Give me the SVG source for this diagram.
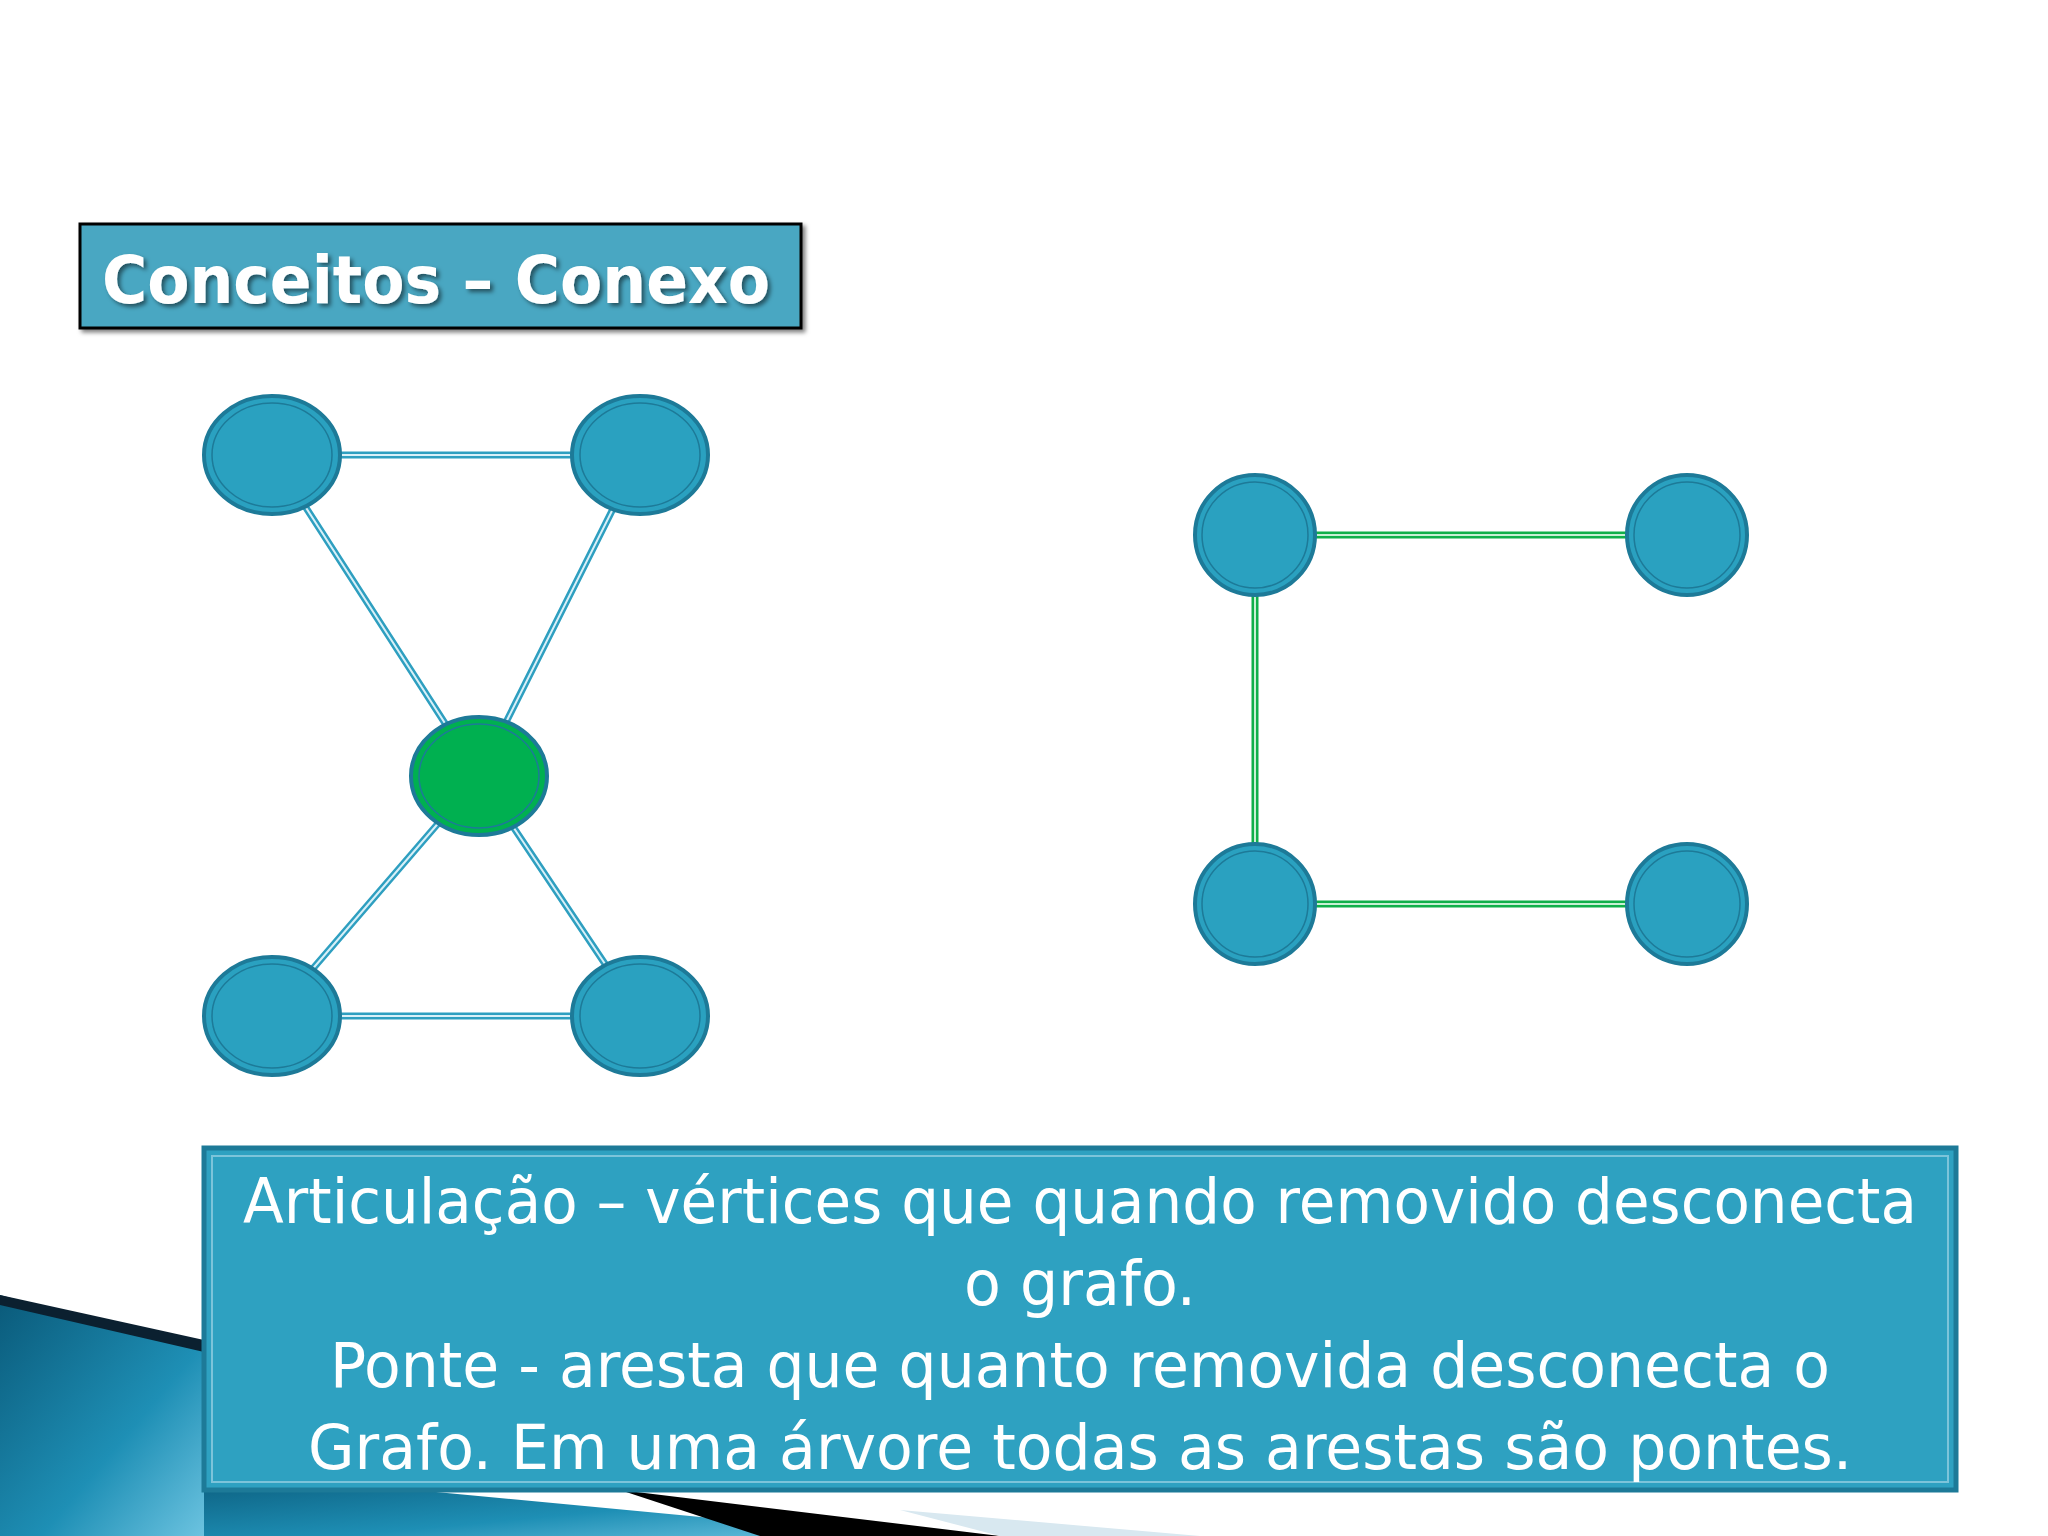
<svg xmlns="http://www.w3.org/2000/svg" width="2048" height="1536" viewBox="0 0 2048 1536">
<defs>
<linearGradient id="sw" x1="0" y1="0" x2="1" y2="1"><stop offset="0" stop-color="#0a5a7a"/><stop offset="0.6" stop-color="#1e8fb5"/><stop offset="1" stop-color="#6cc3e0"/></linearGradient>
<filter id="sh"><feDropShadow dx="3" dy="3" stdDeviation="2" flood-color="#000" flood-opacity="0.5"/></filter>
</defs>
<style>
.be{stroke:#2e9fc0;stroke-width:7;fill:none}
.bi{stroke:#d8f0f8;stroke-width:2;fill:none}
.ge{stroke:#10b04a;stroke-width:7;fill:none}
.gi{stroke:#c8f0d4;stroke-width:2;fill:none}
.n{fill:#2aa1c0;stroke:#1d7a98;stroke-width:4}
.ring{fill:none;stroke:#1d7a98;stroke-width:1.5}
.t{font-family:"DejaVu Sans",Verdana,sans-serif;fill:#fff;text-anchor:middle}
</style>
<rect width="2048" height="1536" fill="#fff"/>
<g id="decor">
<polygon points="0,1295 204,1350 204,1536 0,1536" fill="url(#sw)"/>
<polygon points="0,1295 204,1340 204,1352 0,1305" fill="#0b2030"/>
<polygon points="204,1470 900,1536 204,1536" fill="url(#sw)"/>
<polygon points="620,1490 1000,1536 760,1536" fill="#000"/>
<polygon points="900,1510 1200,1536 1000,1536" fill="#d8e8f0"/>
</g>
<g id="title">
<rect x="80" y="224" width="721" height="104" fill="#4aa7c2" stroke="#000" stroke-width="3" filter="url(#sh)"/>
<text x="102" y="303" font-family="Verdana,'DejaVu Sans',sans-serif" font-weight="bold" font-size="66" fill="#fff" filter="url(#sh)" textLength="668" lengthAdjust="spacingAndGlyphs">Conceitos – Conexo</text>
</g>
<g id="connectors">
<path class="be" d="M272,455H640M272,455L479,776M640,455L479,776M479,776L272,1016M479,776L640,1016M272,1016H640"/>
<path class="bi" d="M272,455H640M272,455L479,776M640,455L479,776M479,776L272,1016M479,776L640,1016M272,1016H640"/>
<path class="ge" d="M1255,535H1687M1255,535V904M1255,904H1687"/>
<path class="gi" d="M1255,535H1687M1255,535V904M1255,904H1687"/>
</g>
<g id="n1"><ellipse class="n" cx="272" cy="455" rx="68" ry="59"/><ellipse class="ring" cx="272" cy="455" rx="60" ry="52"/></g>
<g id="n2"><ellipse class="n" cx="640" cy="455" rx="68" ry="59"/><ellipse class="ring" cx="640" cy="455" rx="60" ry="52"/></g>
<g id="n3"><ellipse cx="479" cy="776" rx="68" ry="59" fill="#00b050" stroke="#1d7a98" stroke-width="4"/><ellipse class="ring" cx="479" cy="776" rx="60" ry="52"/></g>
<g id="n4"><ellipse class="n" cx="272" cy="1016" rx="68" ry="59"/><ellipse class="ring" cx="272" cy="1016" rx="60" ry="52"/></g>
<g id="n5"><ellipse class="n" cx="640" cy="1016" rx="68" ry="59"/><ellipse class="ring" cx="640" cy="1016" rx="60" ry="52"/></g>
<g id="m1"><circle class="n" cx="1255" cy="535" r="60"/><circle class="ring" cx="1255" cy="535" r="53"/></g>
<g id="m2"><circle class="n" cx="1687" cy="535" r="60"/><circle class="ring" cx="1687" cy="535" r="53"/></g>
<g id="m3"><circle class="n" cx="1255" cy="904" r="60"/><circle class="ring" cx="1255" cy="904" r="53"/></g>
<g id="m4"><circle class="n" cx="1687" cy="904" r="60"/><circle class="ring" cx="1687" cy="904" r="53"/></g>
<g id="textbox">
<rect x="204" y="1148" width="1752" height="342" fill="#2ea1c1" stroke="#1d7a98" stroke-width="5"/>
<rect x="212" y="1156" width="1736" height="326" fill="none" stroke="#7cc4da" stroke-width="2"/>
<text class="t" x="1080" y="1223" font-size="62" textLength="1674" lengthAdjust="spacingAndGlyphs">Articulação – vértices que quando removido desconecta</text>
<text class="t" x="1080" y="1305" font-size="62" textLength="232" lengthAdjust="spacingAndGlyphs">o grafo.</text>
<text class="t" x="1080" y="1387" font-size="62" textLength="1500" lengthAdjust="spacingAndGlyphs">Ponte - aresta que quanto removida desconecta o</text>
<text class="t" x="1080" y="1469" font-size="62" textLength="1544" lengthAdjust="spacingAndGlyphs">Grafo. Em uma árvore todas as arestas são pontes.</text>
</g>
</svg>
